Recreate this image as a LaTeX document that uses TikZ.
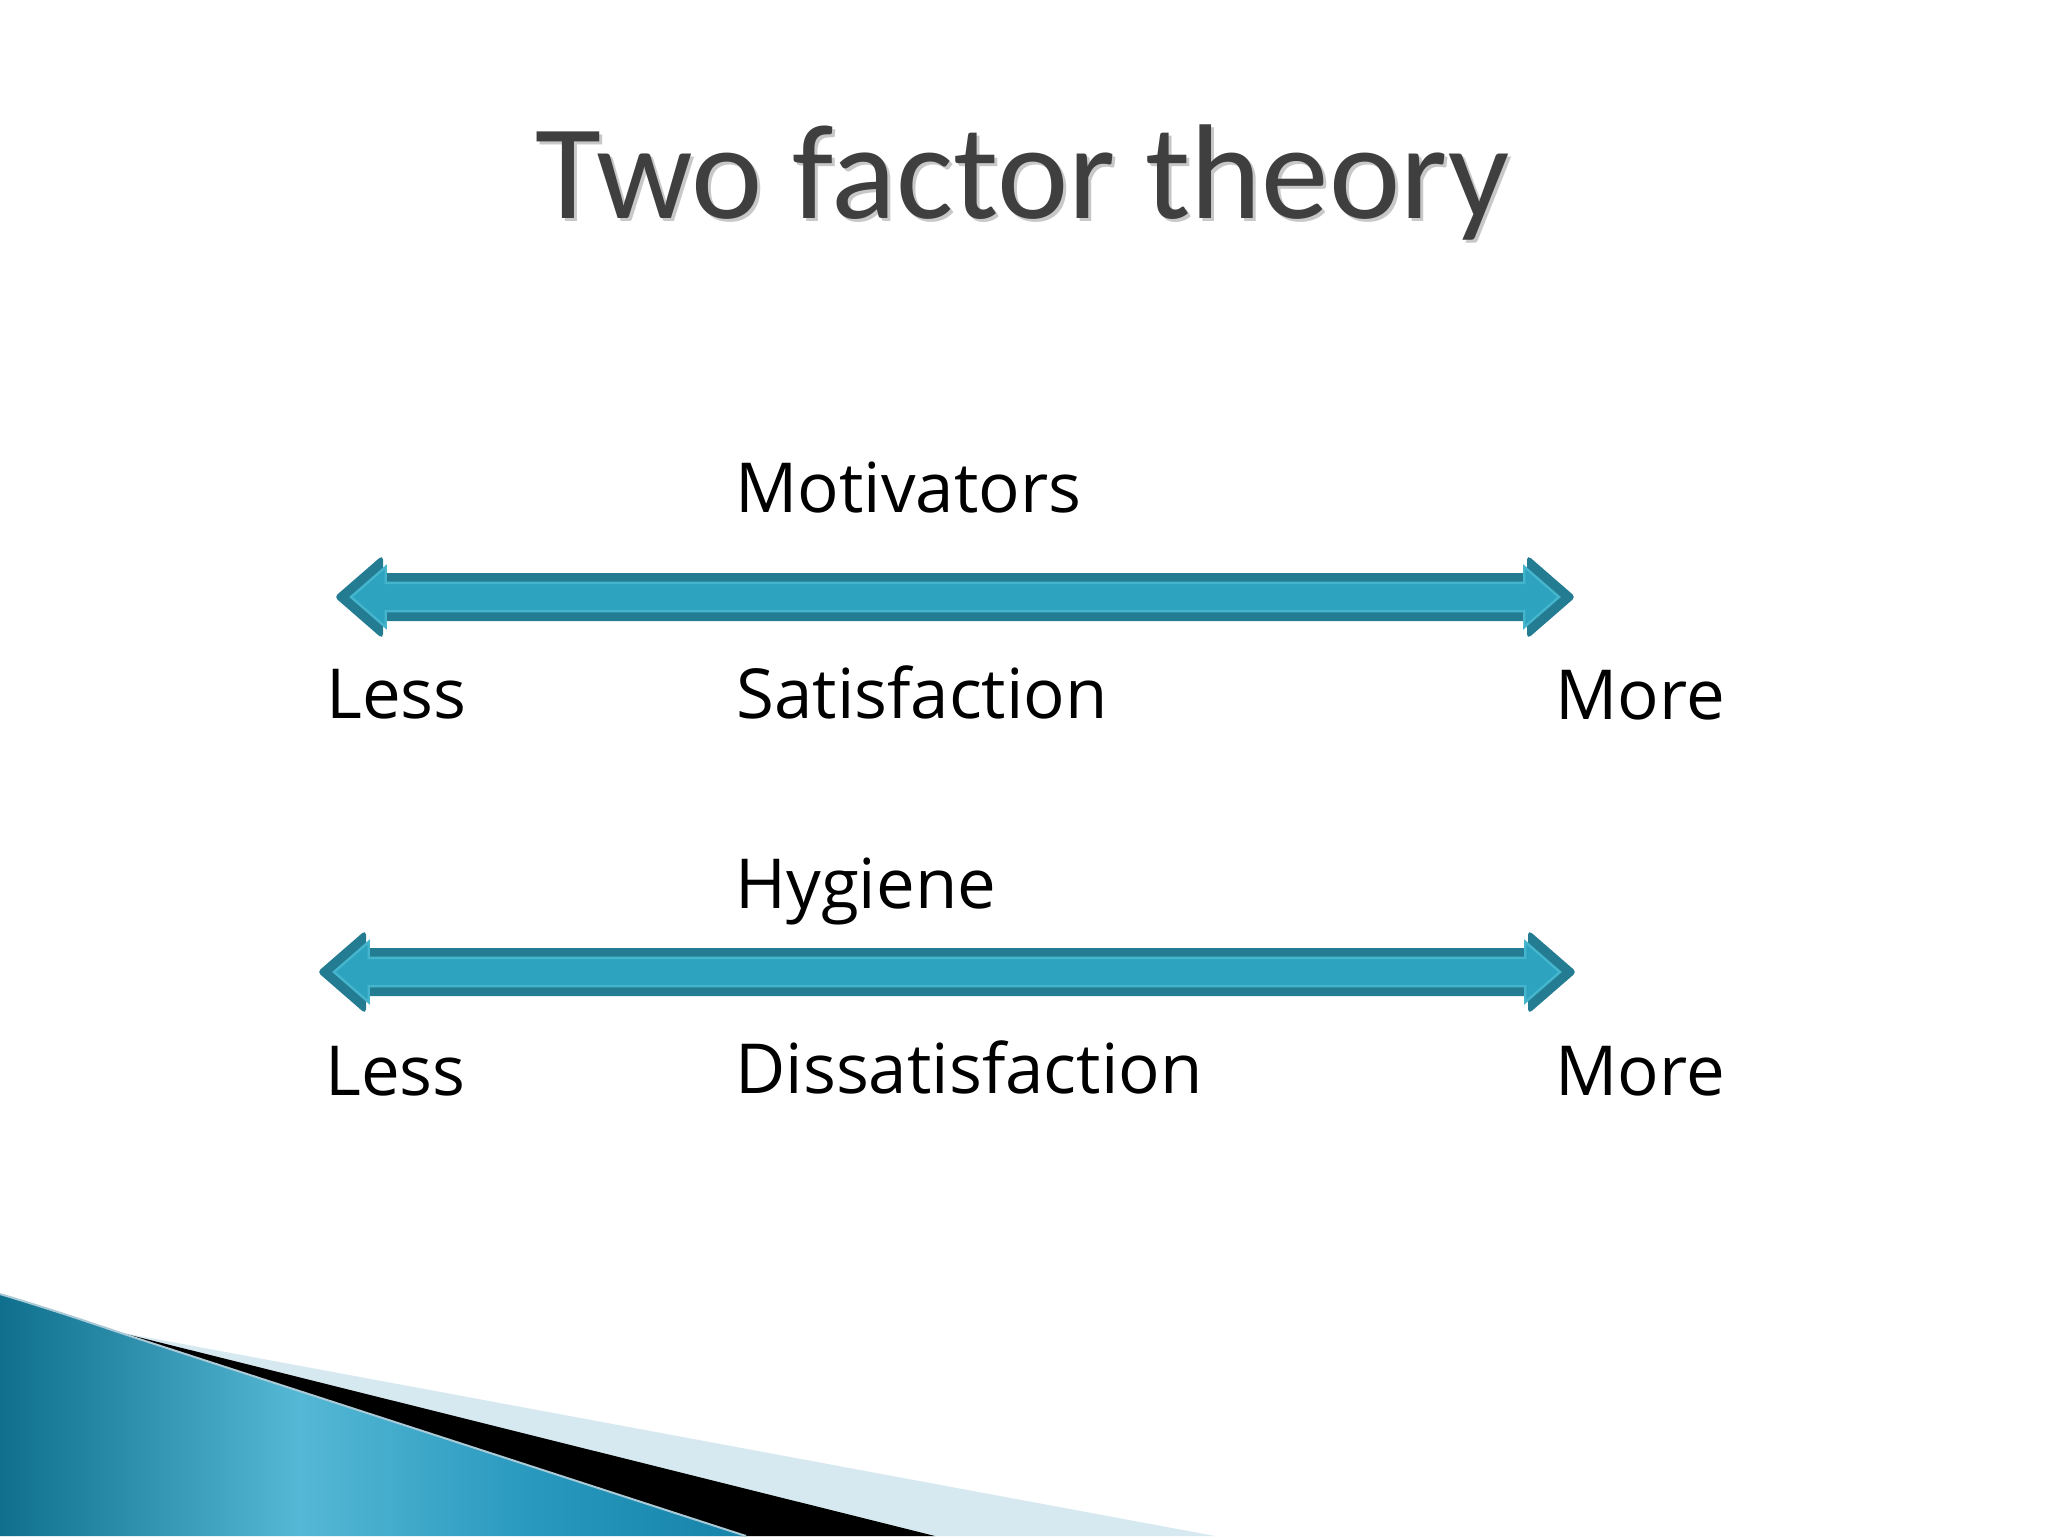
\documentclass[tikz,border=0pt]{standalone}
\usepackage{fontspec}
\setmainfont{Open Sans}
\newfontfamily\titlefont{Carlito}
\usetikzlibrary{shapes.arrows}
\definecolor{arrdark}{HTML}{237C91}
\definecolor{arrfill}{HTML}{2EA3BF}
\definecolor{arrline}{HTML}{45B5CD}
\definecolor{titlegray}{HTML}{3F3F3F}
\definecolor{shadowgray}{HTML}{C8C8C8}
\definecolor{bandlight}{HTML}{D6E8F0}
\definecolor{bluedark}{HTML}{0F6F8C}
\definecolor{bluelight}{HTML}{55B8D5}
\definecolor{bluemid}{HTML}{2898BE}
\definecolor{blueright}{HTML}{1683A8}
\definecolor{blueedge}{HTML}{A9CAD6}
\pgfdeclarehorizontalshading{decoblue}{100bp}{color(0bp)=(bluedark); color(25bp)=(bluedark); color(45bp)=(bluelight); color(61bp)=(bluemid); color(75bp)=(blueright); color(100bp)=(blueright)}
\begin{document}
\begin{tikzpicture}[x=0.5pt,y=-0.5pt,
  titletext/.style={anchor=base, inner sep=0, font=\titlefont\fontsize{67.5}{72}\selectfont},
  lbl/.style={anchor=base west, inner sep=0, font=\fontsize{34.5}{40}\selectfont, text=black},
  arrowouter/.style={double arrow, fill=arrdark, draw=arrdark, line width=1pt,
    double arrow tip angle=82, double arrow head extend=8.5pt,
    inner xsep=0pt, inner ysep=11pt, outer sep=0, rounded corners=1.5pt},
  arrowinner/.style={double arrow, fill=arrfill, draw=arrline, line width=1.2pt,
    double arrow tip angle=82, double arrow head extend=8pt,
    inner xsep=0pt, inner ysep=6.5pt, outer sep=0}]
\fill[white] (0,0) rectangle (2048,1536);
\useasboundingbox (0,0) rectangle (2048,1536);

% title
\node[titletext, text=shadowgray] (titleshadow) at (1025.5,221.5) {Two factor theory};
\node[titletext, text=titlegray] (title) at (1022.5,218) {Two factor theory};

% arrows
\node[arrowouter, minimum height=619pt] (arrowA) at (955,597) {};
\node[arrowinner, minimum height=604pt] (arrowAin) at (955,597) {};
\node[arrowouter, minimum height=628pt] (arrowB) at (947,972) {};
\node[arrowinner, minimum height=613pt] (arrowBin) at (947,972) {};

% labels
\node[lbl] (motiv) at (735,512) {Motivators};
\node[lbl] (lessA) at (326,718) {Less};
\node[lbl] (satis) at (736,718) {Satisfaction};
\node[lbl] (moreA) at (1555,719) {More};
\node[lbl] (hyg) at (735,908) {Hygiene};
\node[lbl] (lessB) at (325,1095) {Less};
\node[lbl] (dissat) at (735,1093) {Dissatisfaction};
\node[lbl] (moreB) at (1555,1095) {More};

% bottom-left decoration
\fill[bandlight] (118,1332) -- (1215,1536) -- (700,1536) -- cycle;
\fill[black] (122,1333) -- (935,1536) -- (740,1536) -- cycle;
\shade[shading=decoblue, shading angle=0]
  (0,1294) .. controls (60,1312) and (100,1326) .. (133,1337) -- (746,1536) -- (0,1536) -- cycle;
\draw[blueedge, line width=1pt] (0,1294) .. controls (60,1312) and (100,1326) .. (133,1337) -- (746,1536);
\end{tikzpicture}
\end{document}
